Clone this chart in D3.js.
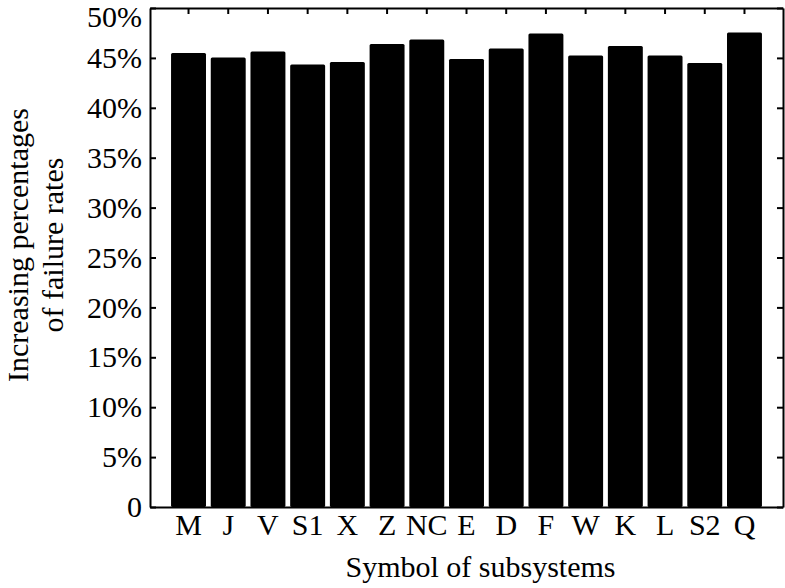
<!DOCTYPE html>
<html>
<head>
<meta charset="utf-8">
<script src="https://cdn.jsdelivr.net/npm/d3@7"></script>
<style>
  body { margin: 0; background: #fff; }
  svg { display: block; font-family: "Liberation Serif", "Times New Roman", serif; }
</style>
</head>
<body>
<div id="chart"></div>
<script>
// subsystem symbols and their increase in failure rate (%)
const categories = ['M', 'J', 'V', 'S1', 'X', 'Z', 'NC', 'E', 'D', 'F', 'W', 'K', 'L', 'S2', 'Q'];
const values = [45.5, 45.05, 45.65, 44.35, 44.6, 46.4, 46.85, 44.9, 45.95, 47.45, 45.25, 46.2, 45.25, 44.5, 47.55];
const yTicks = [0, 5, 10, 15, 20, 25, 30, 35, 40, 45, 50];
const yTitle = ['Increasing percentages', 'of failure rates'];
const xTitle = 'Symbol of subsystems';

const W = 785, H = 588;
const m = { left: 150, right: 2, top: 8, bottom: 81 };

const svg = d3.select('#chart').append('svg').attr('width', W).attr('height', H);

const x = d3.scaleBand().domain(categories).range([m.left, W - m.right]).paddingInner(0.12).paddingOuter(0.53);
const y = d3.scaleLinear().domain([0, 50]).range([H - m.bottom, m.top]);

// bars
svg.append('g').selectAll('rect').data(categories).enter().append('rect')
  .attr('x', d => x(d)).attr('width', x.bandwidth())
  .attr('y', (d, i) => y(values[i])).attr('height', (d, i) => y(0) - y(values[i]))
  .attr('rx', 1.5).attr('fill', '#000');

const fmt = d => d === 0 ? '0' : d + '%';
const tickLen = 6;

// left axis (ticks inside)
const axLeft = svg.append('g').attr('transform', `translate(${m.left},0)`)
  .call(d3.axisLeft(y).tickValues(yTicks).tickFormat(fmt).tickSizeInner(-tickLen).tickSizeOuter(0).tickPadding(8));
// right axis
const axRight = svg.append('g').attr('transform', `translate(${W - m.right},0)`)
  .call(d3.axisRight(y).tickValues(yTicks).tickFormat('').tickSizeInner(-tickLen).tickSizeOuter(0));
// top axis, ticks at bar centres
const axTop = svg.append('g').attr('transform', `translate(0,${m.top})`)
  .call(d3.axisTop(x).tickFormat('').tickSizeInner(-tickLen).tickSizeOuter(0));
// bottom axis with labels
const axBottom = svg.append('g').attr('transform', `translate(0,${H - m.bottom})`)
  .call(d3.axisBottom(x).tickSizeInner(-tickLen).tickSizeOuter(0).tickPadding(7));

[axLeft, axRight, axTop, axBottom].forEach(g => {
  g.selectAll('.domain').attr('stroke', '#000').attr('stroke-width', 2);
  g.selectAll('.tick line').attr('stroke', '#000').attr('stroke-width', 2);
  g.selectAll('text').attr('font-family', 'Liberation Serif, Times New Roman, serif').attr('font-size', 30).attr('fill', '#000');
});
axBottom.selectAll('.tick text').attr('dy', '0.71em');
// top label sits a little lower so it stays inside the frame
axLeft.selectAll('.tick text').filter(d => d === 50).attr('dy', '0.62em');

// axis titles
svg.append('text').attr('x', (m.left + W - m.right) / 2 + 14).attr('y', 577)
  .attr('text-anchor', 'middle').attr('font-size', 30).text(xTitle);

yTitle.forEach((t, i) => {
  svg.append('text').attr('transform', `translate(${28 + i * 35},245) rotate(-90)`)
    .attr('text-anchor', 'middle').attr('font-size', 30).text(t);
});
</script>
</body>
</html>
